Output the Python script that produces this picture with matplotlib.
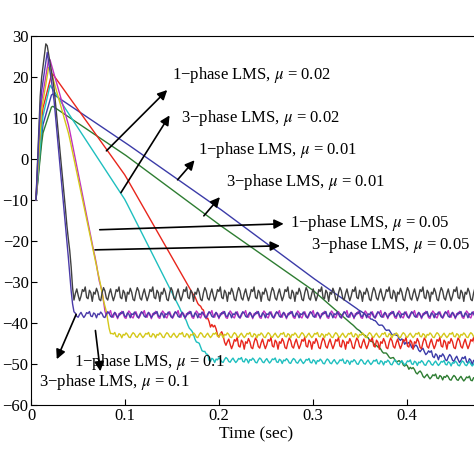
import numpy as np
import matplotlib
matplotlib.use("Agg")
import matplotlib.pyplot as plt

plt.rcParams['font.family'] = ['Liberation Serif', 'DejaVu Serif']
plt.rcParams['mathtext.fontset'] = 'stix'

# Key points of each learning curve (time sec, MSE dB)
series = {
    "blue":    dict(color="#3b3ba8", t=[0.005, 0.012, 0.022, 0.10, 0.20, 0.30, 0.40, 0.43, 0.49], v=[-10, 8, 16, 4, -12, -29, -45, -48, -50], lvl_ripple=0.8),
    "green":   dict(color="#2e7d32", t=[0.005, 0.012, 0.022, 0.10, 0.20, 0.30, 0.38, 0.42, 0.49], v=[-10, 6, 13, 1, -16, -32, -48, -53, -54], lvl_ripple=0.6),
    "red":     dict(color="#e8261c", t=[0.005, 0.012, 0.022, 0.10, 0.19, 0.21, 0.49], v=[-10, 12, 21, -4, -40, -45, -45], lvl_ripple=1.3),
    "cyan":    dict(color="#1fbfbf", t=[0.005, 0.012, 0.02, 0.10, 0.175, 0.19, 0.49], v=[-10, 10, 18, -10, -44, -49, -50], lvl_ripple=0.6),
    "magenta": dict(color="#c030c0", t=[0.005, 0.011, 0.019, 0.04, 0.08, 0.49], v=[-10, 14, 25, 8, -38, -38], lvl_ripple=0.9),
    "yellow":  dict(color="#d4c81a", t=[0.005, 0.011, 0.019, 0.04, 0.085, 0.49], v=[-10, 12, 23, 6, -43, -43], lvl_ripple=0.6),
    "black":   dict(color="#404040", t=[0.005, 0.010, 0.016, 0.024, 0.045, 0.49], v=[-10, 18, 29, 18, -33, -33], lvl_ripple=1.6),
    "purple":  dict(color="#4a3aa8", t=[0.005, 0.010, 0.017, 0.024, 0.045, 0.49], v=[-10, 15, 26, 15, -38, -38], lvl_ripple=0.7),
}
ripple_pattern = [0.0, 0.9, 0.3, -0.8, -1.0, 0.2, 1.0, 0.5, -0.6, -0.9, 0.1, 0.8, -0.2, -1.0, -0.3, 0.7,
                  0.4, 1.1, -0.5, -0.7, 0.6, 0.2, -1.1, 0.3]

labels = [
    ("1\u2212phase LMS, $\\mu$ = 0.02", (0.150, 20.5), (0.078, 1.5), (0.147, 17.3)),
    ("3\u2212phase LMS, $\\mu$ = 0.02", (0.160, 10.0), (0.094, -8.8), (0.149, 11.2)),
    ("1\u2212phase LMS, $\\mu$ = 0.01", (0.178, 2.2), (0.154, -5.6), (0.176, 0.2)),
    ("3\u2212phase LMS, $\\mu$ = 0.01", (0.208, -5.6), (0.182, -14.4), (0.203, -8.8)),
    ("1\u2212phase LMS, $\\mu$ = 0.05", (0.276, -15.6), (0.070, -17.3), (0.272, -15.8)),
    ("3\u2212phase LMS, $\\mu$ = 0.05", (0.298, -21.0), (0.065, -22.2), (0.268, -21.2)),
    ("1\u2212phase LMS, $\\mu$ = 0.1", (0.046, -49.5), (0.068, -41.2), (0.074, -52.5)),
    ("3\u2212phase LMS, $\\mu$ = 0.1", (0.008, -54.5), (0.049, -37.3), (0.026, -49.5)),
]

fig = plt.figure(figsize=(4.74, 4.74), dpi=100)
ax = fig.add_axes([0.066, 0.146, 0.95, 0.778])

for i, (name, s) in enumerate(series.items()):
    t = np.arange(0.005, 0.49, 0.0015)
    v = np.interp(t, s["t"], s["v"])
    settle = s["t"][-2]
    rp = np.roll(np.array(ripple_pattern * (len(t) // len(ripple_pattern) + 1))[:len(t)], i * 3)
    w = np.clip((t - settle * 0.8) / (settle * 0.2 + 1e-9), 0, 1)
    v = v + rp * s["lvl_ripple"] * w
    ax.plot(t, v, color=s["color"], lw=1.0)

for text, tpos, tail, head in labels:
    ax.annotate("", xy=head, xytext=tail,
                arrowprops=dict(arrowstyle="-|>", color="black", lw=1.2, mutation_scale=14))
    ax.text(tpos[0], tpos[1], text, fontsize=12, va="center", ha="left")

ax.set_xlim(0, 0.48)
ax.set_ylim(-60, 30)
ax.set_xticks([0, 0.1, 0.2, 0.3, 0.4])
ax.set_xticklabels(["0", "0.1", "0.2", "0.3", "0.4"])
ax.set_yticks(range(-60, 31, 10))
ax.tick_params(labelsize=12, direction="in", length=4, pad=2)
ax.set_xlabel("Time (sec)", fontsize=12.5, labelpad=2)
ax.spines['right'].set_visible(False)

fig.savefig("out.png", dpi=100)
